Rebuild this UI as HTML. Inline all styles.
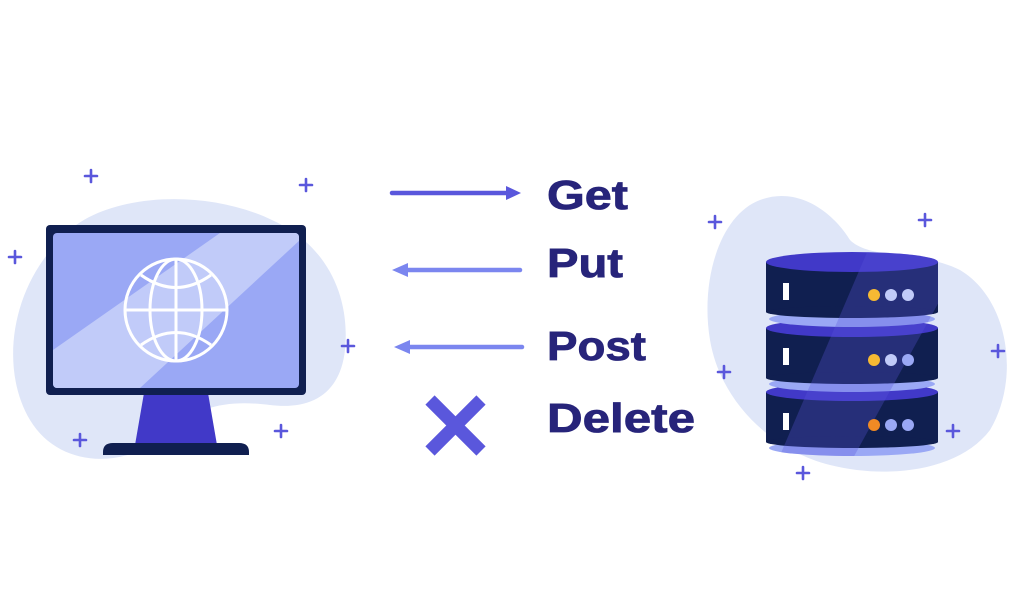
<!DOCTYPE html>
<html><head><style>html,body{margin:0;padding:0;background:#fff}svg{display:block}</style></head>
<body>
<svg width="1024" height="589" viewBox="0 0 1024 589" xmlns="http://www.w3.org/2000/svg">
<defs>
<g id="plus"><path d="M-6 0H6M0 -6V6" stroke="#5a57dc" stroke-width="2.6" stroke-linecap="round"/></g>
<clipPath id="scr"><rect x="53" y="233" width="246" height="155" rx="4"/></clipPath>
<clipPath id="srv">
<rect x="766" y="262" width="172" height="50"/><ellipse cx="852" cy="262" rx="86" ry="10"/><ellipse cx="852" cy="312" rx="86" ry="6"/><ellipse cx="852" cy="319" rx="83" ry="8"/>
<rect x="766" y="328" width="172" height="50"/><ellipse cx="852" cy="328" rx="86" ry="9"/><ellipse cx="852" cy="378" rx="86" ry="6"/><ellipse cx="852" cy="384" rx="83" ry="8"/>
<rect x="766" y="392" width="172" height="50"/><ellipse cx="852" cy="392" rx="86" ry="9"/><ellipse cx="852" cy="442" rx="86" ry="6"/><ellipse cx="852" cy="448" rx="83" ry="8"/>
</clipPath>
</defs>
<path d="M60 240 C100 190 220 185 290 230 C330 255 350 300 345 350 C340 395 310 410 270 405 C230 400 200 405 170 430 C130 470 60 470 30 420 C0 370 10 290 60 240 Z" fill="#dfe6f8"/>
<path d="M760 200 C800 185 835 215 850 240 C870 260 920 250 960 270 C1010 300 1020 380 990 430 C960 470 890 480 830 465 C770 450 720 400 710 340 C700 280 720 215 760 200 Z" fill="#dfe6f8"/>
<use href="#plus" x="91" y="176"/><use href="#plus" x="306" y="185"/><use href="#plus" x="15" y="257"/>
<use href="#plus" x="348" y="346"/><use href="#plus" x="80" y="440"/><use href="#plus" x="281" y="431"/>
<use href="#plus" x="715" y="222"/><use href="#plus" x="925" y="220"/><use href="#plus" x="724" y="372"/>
<use href="#plus" x="998" y="351"/><use href="#plus" x="953" y="431"/><use href="#plus" x="803" y="473"/>
<path d="M144 393 L208 393 L217 445 L135 445 Z" fill="#4139c8"/>
<path d="M103 455 L103 452 Q103 443 113 443 L239 443 Q249 443 249 452 L249 455 Z" fill="#101f50"/>
<rect x="46" y="225" width="260" height="170" rx="4" fill="#101f50"/>
<g clip-path="url(#scr)">
<rect x="53" y="233" width="246" height="155" fill="#9aa8f5"/>
<path d="M220 233 L300 233 L300 240 L140 388 L53 388 L53 350 Z" fill="#c1cbf9"/>
</g>
<g fill="none" stroke="#fff" stroke-width="3">
<circle cx="176" cy="310" r="51"/>
<line x1="125" y1="310" x2="227" y2="310"/>
<line x1="176" y1="259" x2="176" y2="361"/>
<ellipse cx="176" cy="310" rx="26" ry="51"/>
<path d="M141 275 Q176 300 211 275"/>
<path d="M141 345 Q176 320 211 345"/>
</g>
<g stroke-linecap="round" stroke-width="4.5">
<line x1="392" y1="193" x2="508" y2="193" stroke="#5a57dc"/>
<line x1="406" y1="270" x2="520" y2="270" stroke="#7b86ef"/>
<line x1="408" y1="347" x2="522" y2="347" stroke="#7b86ef"/>
</g>
<path d="M506 186 L521 193 L506 200 Z" fill="#5a57dc"/>
<path d="M408 263 L392 270 L408 277 Z" fill="#7b86ef"/>
<path d="M410 340 L394 347 L410 354 Z" fill="#7b86ef"/>
<path d="M430 400 L481 451 M481 400 L430 451" stroke="#5a57dc" stroke-width="13"/>
<g font-family="Liberation Sans, sans-serif" font-weight="bold" font-size="41" fill="#27247a" stroke="#27247a" stroke-width="0.8">
<text x="547" y="209" textLength="81" lengthAdjust="spacingAndGlyphs">Get</text>
<text x="547" y="277" textLength="76" lengthAdjust="spacingAndGlyphs">Put</text>
<text x="547" y="360" textLength="99" lengthAdjust="spacingAndGlyphs">Post</text>
<text x="547" y="432" textLength="148" lengthAdjust="spacingAndGlyphs">Delete</text>
</g>
<g>
<ellipse cx="852" cy="448" rx="83" ry="8" fill="#9aa8f5"/>
<rect x="766" y="392" width="172" height="50" fill="#101f50"/>
<ellipse cx="852" cy="442" rx="86" ry="6" fill="#101f50"/>
<ellipse cx="852" cy="392" rx="86" ry="9" fill="#4139c8"/>
<ellipse cx="852" cy="384" rx="83" ry="8" fill="#9aa8f5"/>
<rect x="766" y="328" width="172" height="50" fill="#101f50"/>
<ellipse cx="852" cy="378" rx="86" ry="6" fill="#101f50"/>
<ellipse cx="852" cy="328" rx="86" ry="9" fill="#4139c8"/>
<ellipse cx="852" cy="319" rx="83" ry="8" fill="#9aa8f5"/>
<rect x="766" y="262" width="172" height="50" fill="#101f50"/>
<ellipse cx="852" cy="312" rx="86" ry="6" fill="#101f50"/>
<ellipse cx="852" cy="262" rx="86" ry="10" fill="#4139c8"/>
<path clip-path="url(#srv)" d="M868 250 L940 250 L940 300 L852 460 L778 460 Z" fill="#5a57dc" opacity="0.3"/>
<g fill="#fff"><rect x="783" y="283" width="6" height="17"/><rect x="783" y="348" width="6" height="17"/><rect x="783" y="413" width="6" height="17"/></g>
<circle cx="874" cy="295" r="6" fill="#f6b933"/><circle cx="891" cy="295" r="6" fill="#c1cbf9"/><circle cx="908" cy="295" r="6" fill="#c1cbf9"/>
<circle cx="874" cy="360" r="6" fill="#f6b933"/><circle cx="891" cy="360" r="6" fill="#c1cbf9"/><circle cx="908" cy="360" r="6" fill="#9aa8f5"/>
<circle cx="874" cy="425" r="6" fill="#f08a24"/><circle cx="891" cy="425" r="6" fill="#9aa8f5"/><circle cx="908" cy="425" r="6" fill="#9aa8f5"/>
</g>
</svg>
</body></html>
